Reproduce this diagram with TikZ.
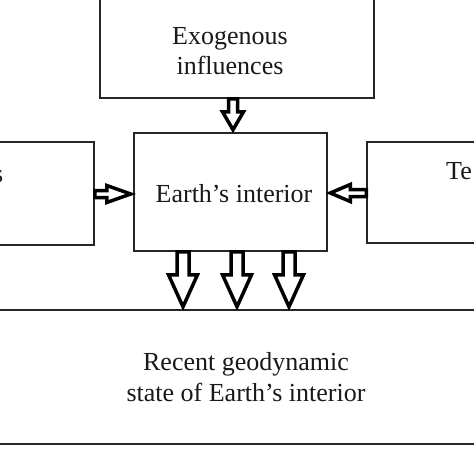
\documentclass[tikz,border=0pt]{standalone}
\usepackage{fontspec}
\setmainfont{Liberation Serif}
\usetikzlibrary{calc}
\tikzset{
  box/.style={draw=black!85, line width=1.5pt, rectangle, inner sep=0pt},
  lbl/.style={inner sep=0pt, font=\fontsize{26}{29.5}\selectfont, align=center, text=black!90},
  blockarrow/.style={draw=black, line width=3.5pt, fill=white, line join=miter, miter limit=10},
}
% #1 start, #2 tip, #3 shaft half width, #4 head half width, #5 head length
\newcommand{\blockarrow}[5]{%
  \coordinate (baA) at (#1);
  \coordinate (baB) at (#2);
  \coordinate (baT) at ($(baB)!2.5pt!(baA)$);
  \coordinate (baH) at ($(baT)!#5!(baA)$);
  \draw[blockarrow] ($(baA)!#3!90:(baT)$) -- ($(baH)!#3!90:(baT)$)
    -- ($(baH)!#4!90:(baT)$) -- (baT) -- ($(baH)!#4!-90:(baT)$)
    -- ($(baH)!#3!-90:(baT)$) -- ($(baA)!#3!-90:(baT)$) -- cycle;
}
\begin{document}
\begin{tikzpicture}[x=1pt,y=-1pt]
\useasboundingbox (0,0) rectangle (474,474);
\clip (0,0) rectangle (474,474);
\fill[white] (0,0) rectangle (474,474);

% boxes
\node[box, minimum width=274pt, minimum height=101pt] (exo) at (237,47.5) {};
\node[box, minimum width=193pt, minimum height=118pt] (mid) at (230.5,192) {};
\node[box, minimum width=104pt, minimum height=103pt] (left) at (42,193.5) {};
\node[box, minimum width=117pt, minimum height=101pt] (right) at (425.5,192.5) {};
\node[box, minimum width=494pt, minimum height=134pt] (state) at (237,377) {};

% texts
\node[lbl] (exoT) at (230,51) {Exogenous\\influences};
\node[lbl, anchor=base] (midT) at (234,202) {Earth’s interior};
\node[lbl, anchor=base east] (leftT) at (3.5,182) {s};
\node[lbl, anchor=base west] (rightT) at (446,179) {Te};
\node[lbl, font=\fontsize{26}{31}\selectfont] (stateT) at (246,377) {Recent geodynamic\\state of Earth’s interior};

% block arrows
\blockarrow{exo.south -| 233,0}{mid.north -| 233,0}{4.5pt}{10.5pt}{18pt}
\blockarrow{left.east |- 0,194}{mid.west |- 0,194}{3.5pt}{8.5pt}{24pt}
\blockarrow{right.west |- 0,193}{mid.east |- 0,193}{3.5pt}{8.5pt}{20pt}
\blockarrow{183,0 |- mid.south}{183,0 |- state.north}{6pt}{14.5pt}{32pt}
\blockarrow{237,0 |- mid.south}{237,0 |- state.north}{6pt}{14.5pt}{32pt}
\blockarrow{289,0 |- mid.south}{289,0 |- state.north}{6pt}{14.5pt}{32pt}
\end{tikzpicture}
\end{document}
